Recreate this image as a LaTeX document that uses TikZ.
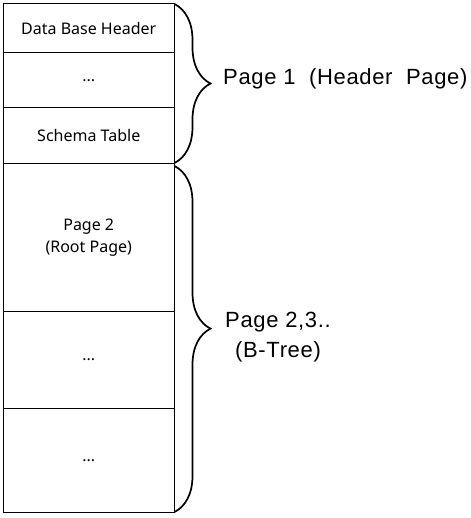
\documentclass[tikz,border=0pt]{standalone}
\usepackage{fontspec}
\setmainfont{Noto Sans}
\newfontfamily\labelfont[LetterSpace=3]{Liberation Sans}
\usetikzlibrary{positioning,decorations.pathreplacing}
\tikzset{
  cellbox/.style={draw, line width=1pt, minimum width=170.5pt, inner sep=0pt, align=center, font=\fontsize{16}{22}\selectfont},
  pagebrace/.style={decorate, decoration={brace, amplitude=36pt}, line width=1.7pt},
  pagelabel/.style={font=\labelfont\fontsize{22}{30}\selectfont, align=center, inner sep=0pt}
}

\begin{document}
\begin{tikzpicture}[x=1pt, y=-1pt]
  \useasboundingbox (0,0) rectangle (470,518);
  % header page
  \node[cellbox, minimum height=49.5pt] (dbheader) at (88.75,28.25) {Data Base Header};
  \node[cellbox, minimum height=55pt] (hdots) at (88.75,80.5) {...};
  \node[cellbox, minimum height=55.5pt] (schema) at (88.75,135.75) {Schema Table};
  % b-tree pages
  \node[cellbox, minimum height=147.5pt] (root) at (88.75,237.25) {Page 2\\(Root Page)};
  \node[cellbox, minimum height=97pt] (tdots) at (88.75,359.5) {...};
  \node[cellbox, minimum height=104.5pt] (ldots) at (88.75,460.25) {...};
  % braces
  \draw[pagebrace] ([yshift=-1pt]dbheader.north east) -- ([yshift=1pt]schema.south east);
  \draw[pagebrace, decoration={aspect=0.47}] ([yshift=-3pt]root.north east) -- ([yshift=1pt]ldots.south east);
  \node[pagelabel, anchor=west] (hlabel) at (223,79) {Page 1~~(Header~~Page)};
  \node[pagelabel] (blabel) at (278,337) {Page 2,3..\\(B-Tree)};
\end{tikzpicture}
\end{document}
